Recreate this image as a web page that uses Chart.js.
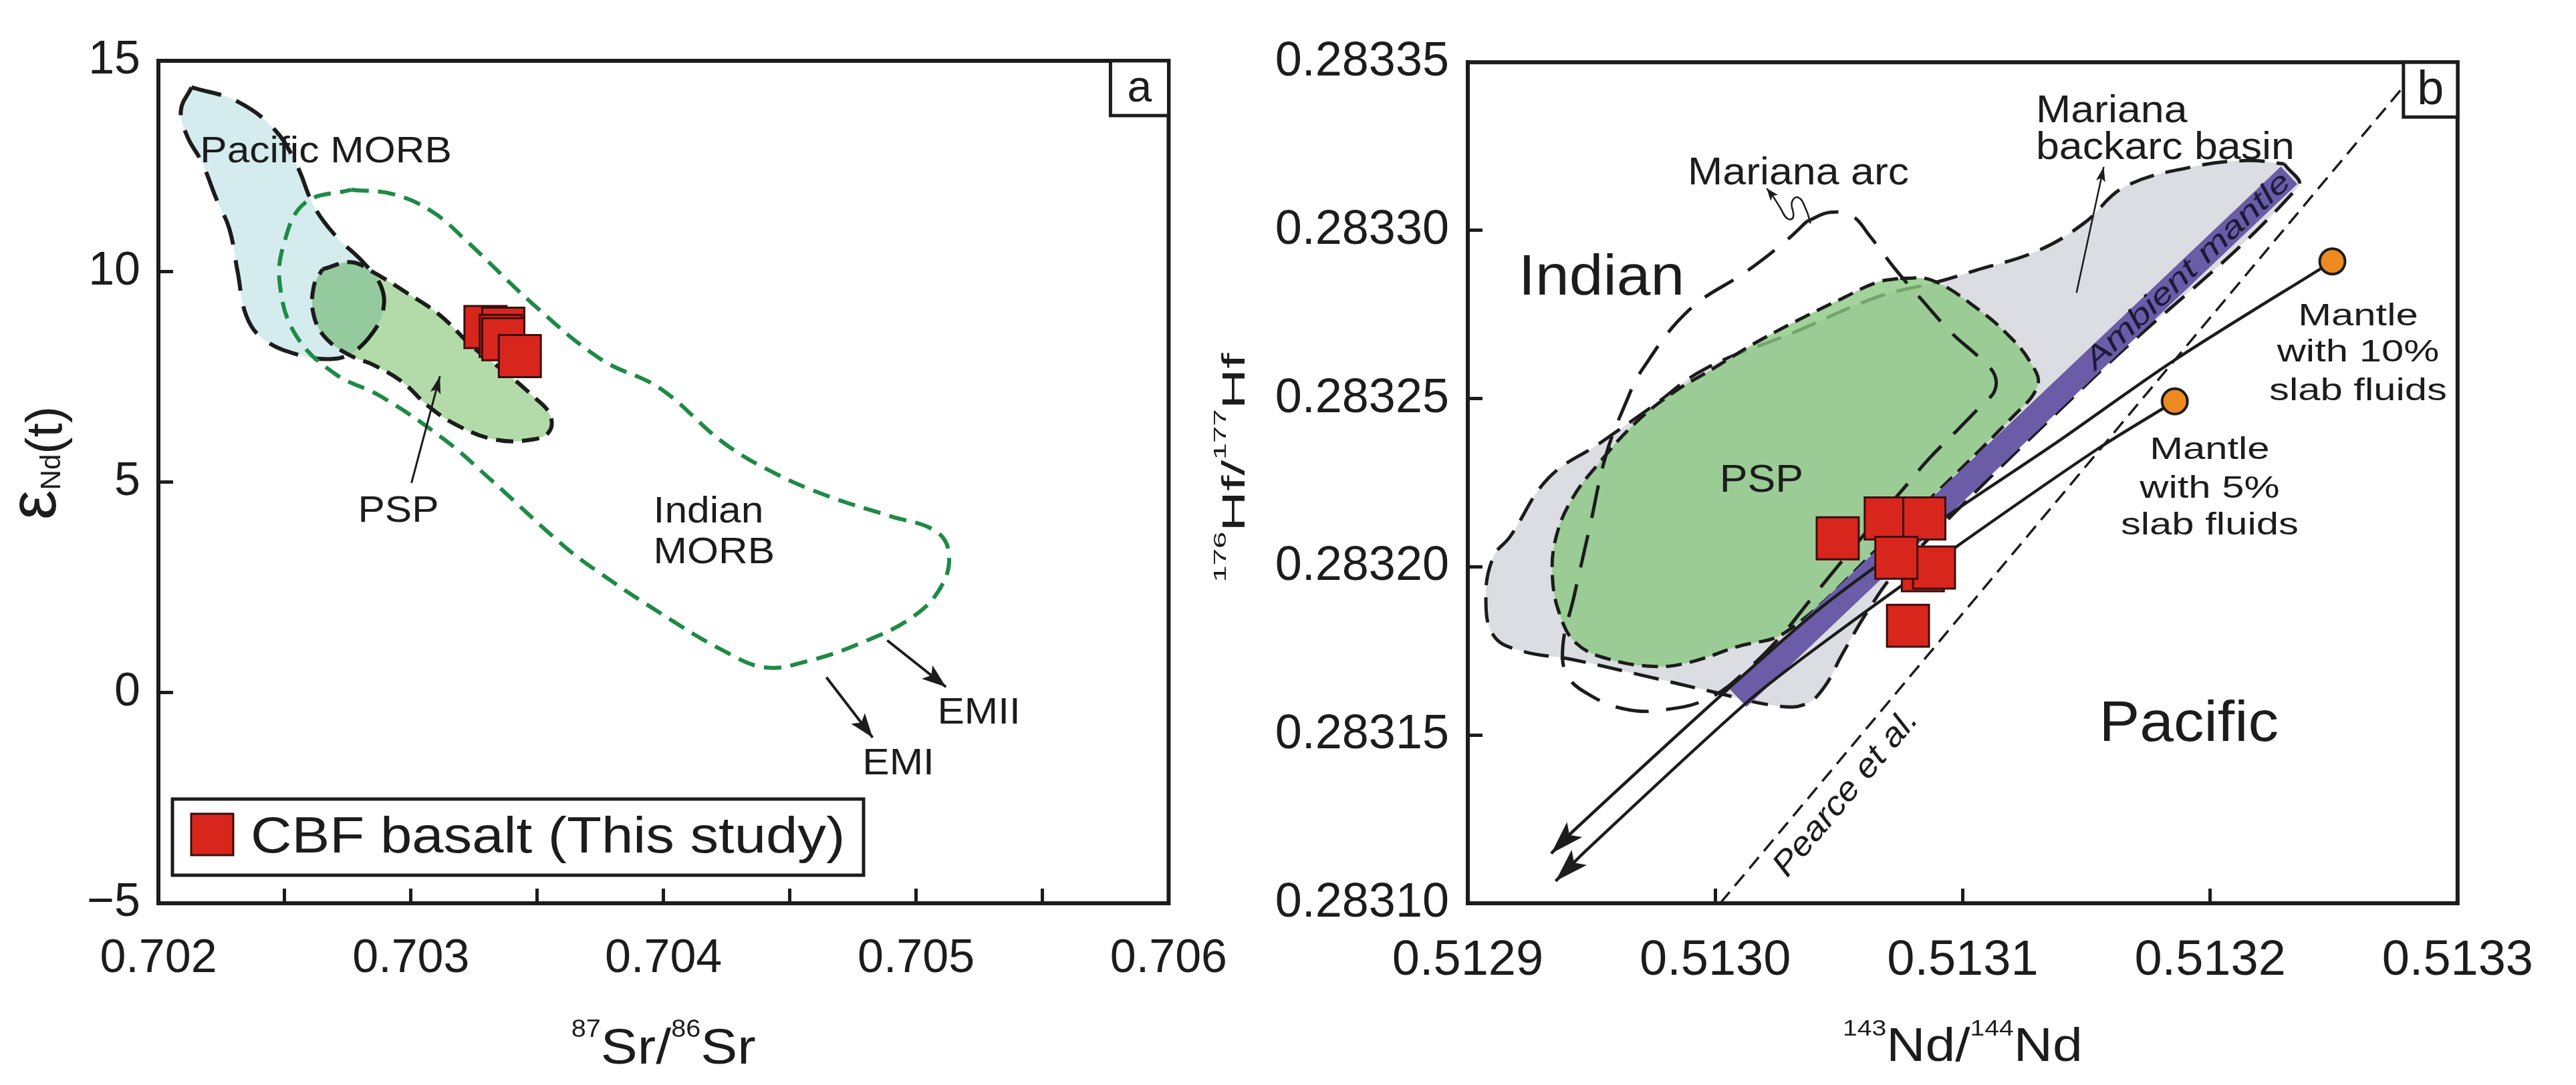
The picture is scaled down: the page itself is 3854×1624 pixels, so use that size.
<!DOCTYPE html>
<html>
<head>
<meta charset="utf-8">
<script src="https://cdn.jsdelivr.net/npm/chart.js@4.4.1/dist/chart.umd.min.js"></script>
<style>
  html, body { margin: 0; padding: 0; background: #fff; }
  body { width: 3854px; height: 1624px; position: relative; overflow: hidden; }
  #chartA { position: absolute; left: 0; top: 0; }
  #chartB { position: absolute; left: 1760px; top: 0; }
</style>
</head>
<body>
<canvas id="chartA" width="1900" height="1624"></canvas>
<canvas id="chartB" width="2094" height="1624"></canvas>
<script>
// ---------- panel a : eNd(t) vs 87Sr/86Sr ----------
const cbfSr = [0.7032950, 0.7033656, 0.7033551, 0.7033656, 0.7034310]
const cbfNd = [8.68, 8.64, 8.47, 8.39, 7.99]

const pacificSr = [0.702131, 0.702314, 0.702464, 0.702548, 0.702615, 0.702698, 0.702815, 0.702882, 0.702890, 0.702848, 0.702765,
  0.702681, 0.702548, 0.702414, 0.702348, 0.702314, 0.702281, 0.702231, 0.702172, 0.702114, 0.702089]
const pacificNd = [14.37, 14.03, 13.34, 12.52, 11.56, 10.87, 10.19, 9.64, 9.09, 8.54, 8.06,
  7.92, 8.03, 8.40, 8.95, 9.98, 11.01, 11.70, 12.59, 13.21, 13.82]

const pspSr = [0.702649, 0.702764, 0.702848, 0.702981, 0.703115, 0.703248, 0.703381, 0.703483, 0.703549, 0.703549, 0.703483,
  0.703332, 0.703182, 0.703065, 0.702965, 0.702848, 0.702764, 0.702664, 0.702615, 0.702615]
const pspNd = [10.05, 10.22, 9.99, 9.50, 8.96, 8.19, 7.57, 7.04, 6.62, 6.21, 6.01,
  6.01, 6.35, 6.82, 7.38, 7.79, 7.99, 8.41, 8.96, 9.64]

const indianSr = [0.702764, 0.702932, 0.703084, 0.703217, 0.703484, 0.703751, 0.703987, 0.704236, 0.704437, 0.704654, 0.704903,
  0.705071, 0.705128, 0.705105, 0.704987, 0.704770, 0.704571, 0.704403, 0.704236, 0.703987, 0.703736, 0.703600,
  0.703317, 0.703134, 0.702882, 0.702699, 0.702547, 0.702482, 0.702497, 0.702581]
const indianNd = [11.94, 11.83, 11.42, 10.74, 9.22, 7.92, 7.22, 5.94, 5.22, 4.66, 4.18,
  3.86, 3.38, 2.58, 1.80, 1.15, 0.75, 0.60, 1.00, 1.89, 2.89, 3.51,
  5.05, 6.00, 7.03, 7.57, 8.46, 9.63, 10.66, 11.63]

const pspArrowSr = [0.7030020, 0.7031145]
const pspArrowNd = [4.977, 7.513]
const emiSr = [0.7046449, 0.7048280]
const emiNd = [0.365, -1.065]
const emiiSr = [0.7048856, 0.7051184]
const emiiNd = [1.241, 0.134]

const textA = [
  { t: 'Pacific MORB', x: 0.702165, y: 12.59, align: 'left' },
  { t: 'PSP', x: 0.70295, y: 4.05 },
  { t: 'Indian', x: 0.70396, y: 4.04, align: 'left' },
  { t: 'MORB', x: 0.70396, y: 3.07, align: 'left' },
  { t: 'EMI', x: 0.70493, y: -1.94 },
  { t: 'EMII', x: 0.705249, y: -0.74 },
]

// ---------- panel b : 176Hf/177Hf vs 143Nd/144Nd ----------
const cbfNdRatio = [0.5130495, 0.5130689, 0.5130845, 0.5130839, 0.5130884, 0.5130732, 0.5130779]
const cbfHfRatio = [0.2832085, 0.2832144, 0.2832144, 0.2831990, 0.2831998, 0.2832027, 0.2831825]

const endNd = [0.5132494, 0.5131857]
const endHf = [0.2832908, 0.2832492]

const backarcNd = [0.5132300, 0.5132355, 0.5131528, 0.5130732, 0.5130620, 0.5130513, 0.5130440, 0.5130365, 0.5130245, 0.5129976,
  0.5129720, 0.5129420, 0.5129217, 0.5129104, 0.5129073, 0.5129104, 0.5129170, 0.5129326, 0.5129532, 0.5129738,
  0.5129960, 0.5130315, 0.5130654, 0.5130892, 0.5131051, 0.5131301, 0.5131489, 0.5131653, 0.5131927, 0.5132149]
const backarcHf = [0.2833198, 0.2833129, 0.2832562, 0.2831985, 0.2831873, 0.2831740, 0.2831642, 0.2831592, 0.2831587, 0.2831631,
  0.2831675, 0.2831725, 0.2831750, 0.2831796, 0.2831914, 0.2832031, 0.2832089, 0.2832264, 0.2832367, 0.2832473,
  0.2832589, 0.2832696, 0.2832802, 0.2832846, 0.2832881, 0.2832939, 0.2833021, 0.2833129, 0.2833189, 0.2833208]

const pspBNd = [0.5130748, 0.5130876, 0.5131066, 0.5131192, 0.5131270, 0.5131304, 0.5131202, 0.5130667, 0.5130289, 0.5130085,
  0.5129895, 0.5129754, 0.5129564, 0.5129438, 0.5129373, 0.5129342, 0.5129357, 0.5129423, 0.5129532, 0.5129676,
  0.5129832, 0.5129991, 0.5130148, 0.5130323, 0.5130513, 0.5130654]
const pspBHf = [0.2832858, 0.2832852, 0.2832764, 0.2832683, 0.2832612, 0.2832542, 0.2832446, 0.2832062, 0.2831808, 0.2831762,
  0.2831716, 0.2831704, 0.2831727, 0.2831773, 0.2831856, 0.2831971, 0.2832089, 0.2832204, 0.2832310, 0.2832427,
  0.2832519, 0.2832589, 0.2832660, 0.2832729, 0.2832798, 0.2832846]

const arcNd = [0.5130370, 0.5130464, 0.5130555, 0.5130623, 0.5130732, 0.5130837, 0.5130954, 0.5131072, 0.5131129, 0.5131129,
  0.5131082, 0.5130967, 0.5130863, 0.5130759, 0.5130628, 0.5130500, 0.5130380, 0.5130263, 0.5130132, 0.5129976,
  0.5129793, 0.5129637, 0.5129493, 0.5129402, 0.5129384, 0.5129428, 0.5129493, 0.5129558, 0.5129637, 0.5129707,
  0.5129895, 0.5130132, 0.5130292]
const arcHf = [0.2833027, 0.2833054, 0.2833042, 0.2832985, 0.2832881, 0.2832792, 0.2832696, 0.2832619, 0.2832571, 0.2832523,
  0.2832485, 0.2832398, 0.2832321, 0.2832231, 0.2832119, 0.2832006, 0.2831898, 0.2831792, 0.2831696, 0.2831610,
  0.2831575, 0.2831577, 0.2831619, 0.2831677, 0.2831764, 0.2831908, 0.2832119, 0.2832331, 0.2832485, 0.2832589,
  0.2832764, 0.2832881, 0.2832973]

const ambientNd = [0.5132319, 0.5130093]
const ambientHf = [0.2833164, 0.2831610]
const pearceNd = [0.5130020, 0.5132864]
const pearceHf = [0.28310, 0.28335]

const mix10Nd = [0.5132494, 0.5131857, 0.5131364, 0.5130915, 0.5130445, 0.5130046, 0.5129428, 0.5129337]
const mix10Hf = [0.2832908, 0.2832615, 0.2832362, 0.2832140, 0.2831889, 0.2831633, 0.2831216, 0.2831148]
const mix5Nd = [0.5131857, 0.5131544, 0.5130959, 0.5130445, 0.5130132, 0.5129480, 0.5129355]
const mix5Hf = [0.2832492, 0.2832350, 0.2832052, 0.2831779, 0.2831600, 0.2831158, 0.2831066]

const squiggleNd = [0.5130385, 0.5130367, 0.5130336, 0.5130310, 0.5130315, 0.5130292, 0.5130263, 0.5130231, 0.5130208]
const squiggleHf = [0.2833021, 0.2833062, 0.2833098, 0.2833085, 0.2833040, 0.2833035, 0.2833067, 0.2833104, 0.2833125]
const backarcArrowNd = [0.5131460, 0.5131570]
const backarcArrowHf = [0.2832815, 0.2833189]

const textB = [
  { t: 'Indian', x: 0.512954, y: 0.283281, f: 'big' },
  { t: 'Pacific', x: 0.5131914, y: 0.2831483, f: 'big' },
  { t: 'PSP', x: 0.5130187, y: 0.2832223, f: 'mid' },
  { t: 'Mariana arc', x: 0.5130336, y: 0.2833137, f: 'mid' },
  { t: 'Mariana', x: 0.5131296, y: 0.2833321, f: 'mid', align: 'left' },
  { t: 'backarc basin', x: 0.5131296, y: 0.2833212, f: 'mid', align: 'left' },
  { t: 'Mantle', x: 0.5132598, y: 0.2832717, f: 'small' },
  { t: 'with 10%', x: 0.5132598, y: 0.2832610, f: 'small' },
  { t: 'slab fluids', x: 0.5132598, y: 0.2832496, f: 'small' },
  { t: 'Mantle', x: 0.5131998, y: 0.2832321, f: 'small' },
  { t: 'with 5%', x: 0.5131998, y: 0.2832206, f: 'small' },
  { t: 'slab fluids', x: 0.5131998, y: 0.2832096, f: 'small' },
]
const ambientLabel = { t: 'Ambient mantle', x: 0.5131912, y: 0.2832879 }
const pearceLabel = { t: 'Pearce et al.', x: 0.5130529, y: 0.2831327 }

// ---------- drawing ----------
const FONT = "'Liberation Sans', Arial, Helvetica, sans-serif"
const INK = '#1c1c1c'
Chart.defaults.font.family = FONT
Chart.defaults.color = INK

function pts(xs, ys, close) {
  const p = xs.map((x, i) => ({ x, y: ys[i] }))
  if (close) p.push({ x: xs[0], y: ys[0] })
  return p
}

function region(label, xs, ys, o) {
  return {
    label, data: pts(xs, ys, true), showLine: true, fill: false,
    borderColor: o.color || INK, borderWidth: o.width, borderDash: o.dash,
    tension: o.tension ?? 0.4, pointRadius: 0, pointHoverRadius: 0,
    areaFill: o.area || null, blend: o.blend || null, order: o.order,
  }
}

function path(label, xs, ys, o) {
  return {
    label, data: pts(xs, ys, false), showLine: true, fill: false,
    borderColor: o.color || INK, borderWidth: o.width, borderDash: o.dash || [],
    borderCapStyle: o.cap || 'butt', tension: o.tension || 0,
    pointRadius: 0, pointHoverRadius: 0, arrowHead: o.head || null, order: o.order,
  }
}

function marks(label, xs, ys, o) {
  return {
    label, data: pts(xs, ys, false), showLine: false, borderWidth: 0,
    pointStyle: o.style, pointRadius: o.r, pointHoverRadius: o.r,
    pointBackgroundColor: o.fill, pointBorderColor: o.edge, pointBorderWidth: o.edgeW,
    order: o.order,
  }
}

// fill the closed (smoothed) outline of a region under its dashed border
function fillArea(chart, args) {
  const ds = chart.data.datasets[args.index]
  if (!ds.areaFill || !args.meta.dataset) return
  const ctx = chart.ctx
  ctx.save()
  if (ds.blend) ctx.globalCompositeOperation = ds.blend
  ctx.beginPath()
  args.meta.dataset.path(ctx)
  ctx.closePath()
  ctx.fillStyle = ds.areaFill
  ctx.fill()
  ctx.restore()
}

function arrowHead(chart, args) {
  const ds = chart.data.datasets[args.index]
  if (!ds.arrowHead) return
  const p = args.meta.data
  const a = p[p.length - 2], b = p[p.length - 1]
  const [len, wid] = ds.arrowHead
  const ctx = chart.ctx
  ctx.save()
  ctx.translate(b.x, b.y)
  ctx.rotate(Math.atan2(b.y - a.y, b.x - a.x))
  ctx.beginPath()
  ctx.moveTo(0, 0)
  ctx.lineTo(-len, wid / 2)
  ctx.lineTo(-len * 0.78, 0)
  ctx.lineTo(-len, -wid / 2)
  ctx.closePath()
  ctx.fillStyle = INK
  ctx.fill()
  ctx.restore()
}

function note(ctx, text, x, y, st, align, rot) {
  ctx.save()
  ctx.translate(x, y)
  if (rot) ctx.rotate(rot)
  ctx.scale(st.sx || 1, 1)
  ctx.font = (st.italic ? 'italic ' : '') + st.size + 'px ' + FONT
  ctx.fillStyle = st.color || INK
  ctx.textAlign = align || 'center'
  ctx.textBaseline = st.base || 'alphabetic'
  ctx.fillText(text, 0, 0)
  ctx.restore()
}

// text built from pieces (superscripts / subscripts), centred on (x, y)
function rich(ctx, parts, x, y, rot, stretch) {
  ctx.save()
  ctx.translate(x, y)
  if (rot) ctx.rotate(rot)
  ctx.scale(stretch || 1, 1)
  ctx.fillStyle = INK
  ctx.textAlign = 'left'
  ctx.textBaseline = 'alphabetic'
  let total = 0
  parts.forEach(p => { ctx.font = p.size + 'px ' + FONT; p.w = ctx.measureText(p.t).width; total += p.w })
  let cx = -total / 2
  parts.forEach(p => { ctx.font = p.size + 'px ' + FONT; ctx.fillText(p.t, cx, p.dy || 0); cx += p.w })
  ctx.restore()
}

function frame(chart, letter, w, h, size) {
  const { left, top, right, bottom } = chart.chartArea
  const ctx = chart.ctx
  ctx.save()
  ctx.strokeStyle = INK
  ctx.lineWidth = 6
  ctx.strokeRect(left, top, right - left, bottom - top)
  ctx.lineWidth = 5
  ctx.fillStyle = '#fff'
  ctx.fillRect(right - w, top, w, h)
  ctx.strokeRect(right - w, top, w, h)
  ctx.fillStyle = INK
  ctx.font = size + 'px ' + FONT
  ctx.textAlign = 'center'
  ctx.textBaseline = 'middle'
  ctx.fillText(letter, right - w / 2, top + h / 2 + 2)
  ctx.restore()
}

function axes(min, max, step, fmt, size, pad, axis) {
  return {
    type: 'linear', min, max,
    ticks: { stepSize: step, autoSkip: false, maxRotation: 0, padding: pad, color: INK,
      font: { size }, callback: fmt },
    grid: { drawOnChartArea: false, tickLength: -22, tickWidth: 5, tickColor: INK },
    border: { width: 6, color: INK },
    afterFit: axis,
  }
}

// ---------- chart a ----------
const decoA = {
  id: 'decoA',
  beforeDatasetDraw: fillArea,
  afterDatasetDraw: arrowHead,
  afterDatasetsDraw(chart) {
    const sx = chart.scales.x, sy = chart.scales.y
    const st = { size: 56, sx: 1.08 }
    textA.forEach(n => note(chart.ctx, n.t, sx.getPixelForValue(n.x), sy.getPixelForValue(n.y), st, n.align))
  },
  afterDraw(chart) {
    const ctx = chart.ctx
    const ca = chart.chartArea
    frame(chart, 'a', 87, 82, 66)
    // legend box
    ctx.save()
    ctx.strokeStyle = INK
    ctx.lineWidth = 5
    ctx.fillStyle = '#fff'
    ctx.fillRect(ca.left + 21, ca.bottom - 156, 1034, 114)
    ctx.strokeRect(ca.left + 21, ca.bottom - 156, 1034, 114)
    ctx.fillStyle = '#d8261d'
    ctx.strokeStyle = '#3b0d0b'
    ctx.lineWidth = 3
    ctx.fillRect(ca.left + 49, ca.bottom - 134, 63, 62)
    ctx.strokeRect(ca.left + 49, ca.bottom - 134, 63, 62)
    ctx.restore()
    note(ctx, 'CBF basalt (This study)', ca.left + 138, ca.bottom - 76, { size: 76, sx: 1.12 }, 'left')
    // axis titles
    rich(ctx, [
      { t: '87', size: 36, dy: -40 }, { t: 'Sr/', size: 75 },
      { t: '86', size: 36, dy: -40 }, { t: 'Sr', size: 75 },
    ], (ca.left + ca.right) / 2, 1592, 0, 1.1)
    rich(ctx, [
      { t: '\u03b5', size: 100, dy: 15 }, { t: 'Nd', size: 42, dy: 22 }, { t: '(t)', size: 76, dy: 24 },
    ], 68, 693, -Math.PI / 2, 1)
  },
}

new Chart(document.getElementById('chartA'), {
  type: 'line',
  data: {
    datasets: [
      marks('CBF basalt (This study)', cbfSr, cbfNd, { style: 'rect', r: 44.5, fill: '#d8261d', edge: '#3b0d0b', edgeW: 3, order: 0 }),
      path('PSP arrow', pspArrowSr, pspArrowNd, { width: 3, head: [26, 16], order: 1 }),
      path('EMI', emiSr, emiNd, { width: 4, head: [36, 26], order: 1 }),
      path('EMII', emiiSr, emiiNd, { width: 4, head: [36, 26], order: 1 }),
      region('Indian MORB', indianSr, indianNd, { color: '#1f8a45', width: 6, dash: [26, 14], order: 2 }),
      region('PSP', pspSr, pspNd, { width: 6, dash: [26, 13], area: '#b3dba9', blend: 'multiply', order: 3 }),
      region('Pacific MORB', pacificSr, pacificNd, { width: 6, dash: [46, 24], area: '#d5ecef', blend: 'multiply', order: 4 }),
    ],
  },
  options: {
    responsive: false, animation: false, events: [],
    layout: { padding: { left: 0, top: 53, right: 134, bottom: 0 } },
    plugins: { legend: { display: false }, tooltip: { enabled: false } },
    scales: {
      x: axes(0.702, 0.706, 0.0005,
        v => Math.abs(v * 1000 - Math.round(v * 1000)) < 1e-6 ? v.toFixed(3) : '',
        70, 64, s => { s.height = 272 }),
      y: axes(-5, 15, 5, v => v < 0 ? '\u2212' + Math.abs(v) : String(v), 70, 49, s => { s.width = 237 }),
    },
  },
  plugins: [decoA],
})

// ---------- chart b ----------
const stylesB = {
  big: { size: 86, sx: 1.06 },
  mid: { size: 57, sx: 1.1 },
  small: { size: 46, sx: 1.3 },
}

const decoB = {
  id: 'decoB',
  beforeDatasetDraw: fillArea,
  afterDatasetDraw: arrowHead,
  afterDatasetsDraw(chart) {
    const ctx = chart.ctx, sx = chart.scales.x, sy = chart.scales.y
    textB.forEach(n => note(ctx, n.t, sx.getPixelForValue(n.x), sy.getPixelForValue(n.y), stylesB[n.f], n.align))
    // angle of a two-point line, read from low-left end to up-right end
    const ang = (xs, ys, lo, hi) => Math.atan2(sy.getPixelForValue(ys[hi]) - sy.getPixelForValue(ys[lo]),
      sx.getPixelForValue(xs[hi]) - sx.getPixelForValue(xs[lo]))
    note(ctx, ambientLabel.t, sx.getPixelForValue(ambientLabel.x), sy.getPixelForValue(ambientLabel.y),
      { size: 44, sx: 1.33, italic: true, base: 'middle', color: '#1b1a3a' }, 'center', ang(ambientNd, ambientHf, 1, 0))
    note(ctx, pearceLabel.t, sx.getPixelForValue(pearceLabel.x), sy.getPixelForValue(pearceLabel.y),
      { size: 50, sx: 1.1, italic: true, base: 'middle' }, 'center', ang(pearceNd, pearceHf, 0, 1))
  },
  afterDraw(chart) {
    const ctx = chart.ctx
    const ca = chart.chartArea
    frame(chart, 'b', 81, 82, 72)
    rich(ctx, [
      { t: '143', size: 34, dy: -38 }, { t: 'Nd/', size: 70 },
      { t: '144', size: 34, dy: -38 }, { t: 'Nd', size: 70 },
    ], (ca.left + ca.right) / 2, 1588, 0, 1.15)
    rich(ctx, [
      { t: '176', size: 26, dy: -4 }, { t: 'Hf/', size: 48, dy: 24 },
      { t: '177', size: 26, dy: -4 }, { t: 'Hf', size: 48, dy: 24 },
    ], 78, 700, -Math.PI / 2, 1.75)
  },
}

new Chart(document.getElementById('chartB'), {
  type: 'line',
  data: {
    datasets: [
      marks('Mantle end-members', endNd, endHf, { style: 'circle', r: 19, fill: '#ee8a22', edge: '#1c1c1c', edgeW: 4, order: 0 }),
      marks('CBF basalt (This study)', cbfNdRatio, cbfHfRatio, { style: 'rect', r: 44.5, fill: '#d8261d', edge: '#3b0d0b', edgeW: 3, order: 1 }),
      path('Mantle with 10% slab fluids', mix10Nd, mix10Hf, { width: 4.5, tension: 0.3, head: [50, 32], order: 2 }),
      path('Mantle with 5% slab fluids', mix5Nd, mix5Hf, { width: 4.5, tension: 0.3, head: [50, 32], order: 2 }),
      path('Mariana arc arrow', squiggleNd, squiggleHf, { width: 2.5, tension: 0.5, head: [18, 14], order: 2 }),
      path('backarc arrow', backarcArrowNd, backarcArrowHf, { width: 2.5, head: [22, 14], order: 2 }),
      path('Pearce et al.', pearceNd, pearceHf, { width: 3.5, dash: [22, 12], order: 3 }),
      path('Ambient mantle', ambientNd, ambientHf, { width: 36, color: '#6a5ca6', order: 4 }),
      region('Mariana arc', arcNd, arcHf, { width: 5, dash: [50, 26], order: 5 }),
      region('PSP', pspBNd, pspBHf, { width: 5, dash: [24, 12], area: 'rgba(139,200,130,0.8)', order: 6 }),
      region('Mariana backarc basin', backarcNd, backarcHf, { width: 5, dash: [38, 18], area: '#dcdde2', order: 7 }),
    ],
  },
  options: {
    responsive: false, animation: false, events: [],
    layout: { padding: { left: 0, top: 52, right: 126, bottom: 0 } },
    plugins: { legend: { display: false }, tooltip: { enabled: false } },
    scales: {
      x: axes(0.5129, 0.5133, 0.0001, v => v.toFixed(4), 74, 64, s => { s.height = 272 }),
      y: axes(0.2831, 0.28335, 0.00005, v => v.toFixed(5), 72, 50, s => { s.width = 436 }),
    },
  },
  plugins: [decoB],
})
</script>
</body>
</html>
